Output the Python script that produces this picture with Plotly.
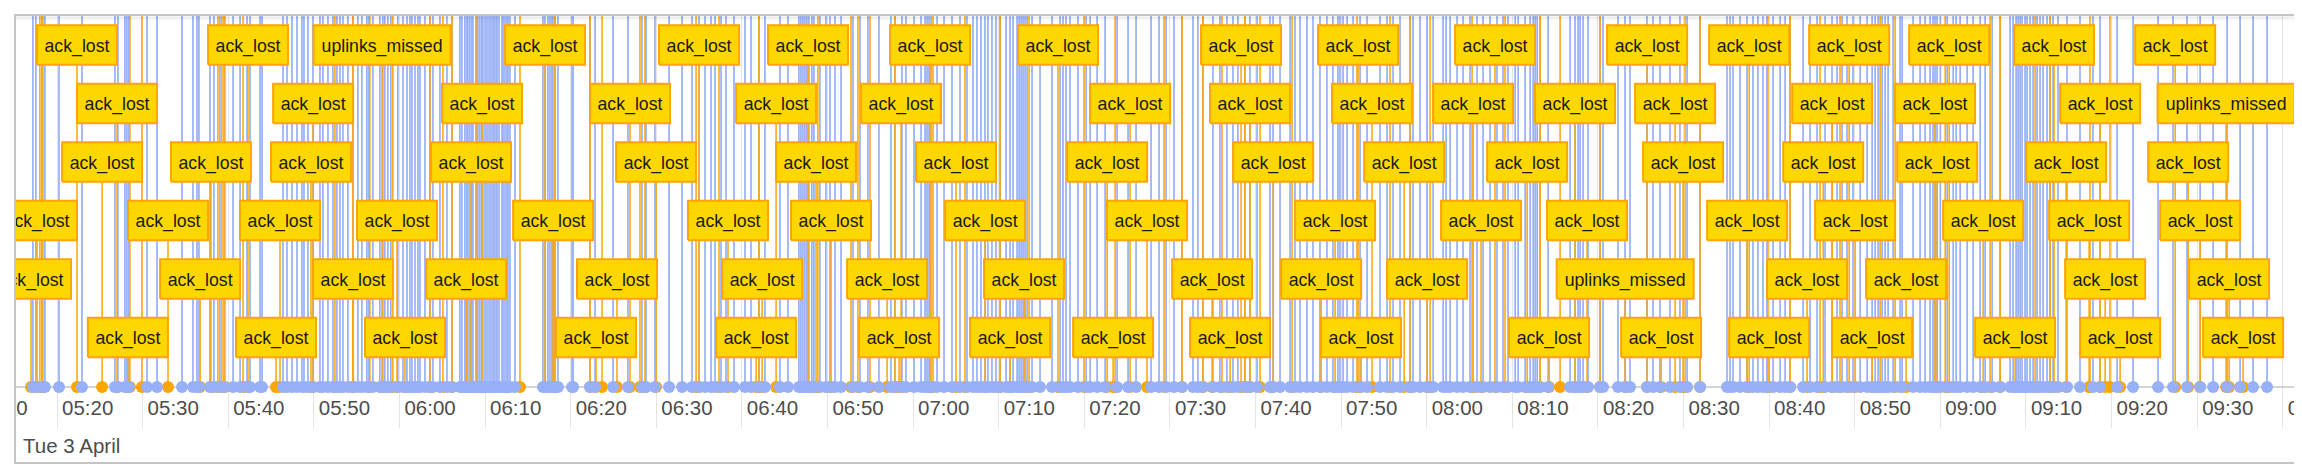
import plotly.graph_objects as go
import pandas as pd

DAY = "2018-04-03"

# ---------------- data (event times) ----------------
# label events, one list per stacking lane (lane 0 = nearest the time axis)
lane0_times = ["05:28:17", "05:45:35", "06:00:39", "06:22:58", "06:41:40", "06:58:22", "07:11:20",
               "07:23:22", "07:37:02", "07:52:20", "08:14:18", "08:27:23", "08:40:00", "08:52:02",
               "09:08:44", "09:21:00", "09:35:22"]
lane1_times = ["05:16:58", "05:36:43", "05:54:35", "06:07:47", "06:25:25", "06:42:22", "06:56:58",
               "07:12:58", "07:34:56", "07:47:40", "08:00:03", "08:23:11", "08:44:26", "08:56:00",
               "09:19:15", "09:33:44"]
lane2_times = ["05:17:40", "05:32:58", "05:46:03", "05:59:43", "06:17:57", "06:38:23", "06:50:25",
               "07:08:25", "07:27:20", "07:49:18", "08:06:21", "08:18:44", "08:37:26", "08:50:03",
               "09:05:00", "09:17:23", "09:30:21"]
lane3_times = ["05:25:16", "05:37:59", "05:49:40", "06:08:22", "06:29:59", "06:48:40", "07:05:01",
               "07:22:40", "07:42:04", "07:57:22", "08:11:44", "08:29:57", "08:46:19", "08:59:38",
               "09:14:42", "09:28:57"]
lane4_times = ["05:27:01", "05:49:55", "06:09:39", "06:26:56", "06:44:00", "06:58:36", "07:25:21",
               "07:39:22", "07:53:37", "08:05:25", "08:17:20", "08:29:01", "08:47:22", "08:59:23",
               "09:18:40", "09:33:23"]
lane5_times = ["05:22:20", "05:42:19", "05:57:58", "06:17:01", "06:35:00", "06:47:44", "07:01:59",
               "07:16:56", "07:38:19", "07:51:59", "08:07:59", "08:25:45", "08:37:40", "08:49:21",
               "09:01:02", "09:13:17", "09:27:26"]
uplinks_missed_times = ["05:57:58", "08:23:11", "09:33:23"]   # all other labels are ack_lost

# other events whose boxes are stacked above the visible area (only line + dot visible)
blue_times = [
    "05:17:11", "05:17:32", "05:18:14", "05:18:35", "05:20:14", "05:22:55", "05:26:46", "05:27:07",
    "05:27:56", "05:28:10", "05:28:24", "05:30:31", "05:31:41", "05:34:36", "05:35:53", "05:36:21",
    "05:36:35", "05:37:52", "05:38:20", "05:39:02", "05:39:30", "05:40:34", "05:41:23", "05:42:12",
    "05:42:33", "05:43:43", "05:43:57", "05:46:24", "05:46:52", "05:47:27", "05:48:02", "05:48:37",
    "05:48:51", "05:49:19", "05:49:54", "05:50:43", "05:51:04", "05:51:39", "05:52:14", "05:52:42",
    "05:53:03", "05:53:24", "05:53:59", "05:54:34", "05:55:09", "05:55:37", "05:56:12", "05:56:26",
    "05:56:54", "05:57:43", "05:58:04", "05:58:18", "05:58:39", "05:59:00", "05:59:49", "06:00:25",
    "06:00:53", "06:01:14", "06:01:28", "06:01:49", "06:02:10", "06:02:24", "06:02:59", "06:03:34",
    "06:03:55", "06:04:44", "06:05:33", "06:06:08", "06:07:04", "06:07:18", "06:07:39", "06:07:53",
    "06:08:00", "06:08:14", "06:08:28", "06:08:35", "06:09:03", "06:09:10", "06:09:24", "06:09:38",
    "06:09:45", "06:10:00", "06:10:14", "06:10:28", "06:10:42", "06:10:56", "06:11:03", "06:11:17",
    "06:11:24", "06:11:38", "06:11:59", "06:12:06", "06:12:20", "06:12:34", "06:12:41", "06:12:55",
    "06:13:30", "06:16:46", "06:17:00", "06:17:21", "06:17:35", "06:17:49", "06:17:56", "06:18:10",
    "06:18:31", "06:20:10", "06:20:17", "06:22:16", "06:22:51", "06:24:57", "06:26:42", "06:28:20",
    "06:28:48", "06:29:51", "06:31:30", "06:33:01", "06:34:11", "06:35:00", "06:35:42", "06:36:24",
    "06:36:52", "06:37:34", "06:38:09", "06:39:05", "06:40:22", "06:41:04", "06:42:00", "06:42:42",
    "06:44:27", "06:45:23", "06:46:40", "06:46:54", "06:47:08", "06:47:22", "06:47:36", "06:47:50",
    "06:48:11", "06:48:25", "06:49:07", "06:49:49", "06:50:18", "06:50:53", "06:51:35", "06:52:59",
    "06:53:48", "06:54:44", "06:56:01", "06:57:25", "06:57:53", "06:58:42", "06:59:10", "07:00:07",
    "07:00:56", "07:01:24", "07:01:38", "07:01:52", "07:02:06", "07:02:48", "07:03:37", "07:04:33",
    "07:05:29", "07:06:18", "07:07:00", "07:07:28", "07:07:56", "07:08:24", "07:08:45", "07:09:13",
    "07:09:41", "07:10:10", "07:10:52", "07:11:20", "07:11:41", "07:12:09", "07:12:23", "07:12:37",
    "07:12:51", "07:13:05", "07:13:19", "07:13:54", "07:14:50", "07:16:14", "07:17:10", "07:17:31",
    "07:17:52", "07:18:20", "07:19:16", "07:20:13", "07:20:41", "07:21:30", "07:22:26", "07:23:50",
    "07:25:07", "07:26:03", "07:27:48", "07:28:44", "07:29:33", "07:30:29", "07:31:25", "07:32:42",
    "07:33:17", "07:33:52", "07:35:02", "07:35:51", "07:36:40", "07:37:22", "07:37:57", "07:38:46",
    "07:39:21", "07:40:11", "07:41:42", "07:42:03", "07:42:52", "07:44:02", "07:44:37", "07:45:12",
    "07:46:01", "07:46:43", "07:47:32", "07:48:21", "07:49:03", "07:49:38", "07:49:52", "07:50:14",
    "07:50:42", "07:51:24", "07:52:13", "07:53:02", "07:54:33", "07:55:22", "07:56:04", "07:56:53",
    "07:58:03", "07:58:24", "07:59:13", "08:00:03", "08:00:45", "08:01:55", "08:02:16", "08:02:44",
    "08:03:33", "08:04:15", "08:05:04", "08:05:53", "08:06:35", "08:07:24", "08:08:13", "08:08:55",
    "08:09:30", "08:10:20", "08:10:41", "08:11:30", "08:12:05", "08:12:26", "08:12:40", "08:12:54",
    "08:13:15", "08:14:11", "08:16:45", "08:17:20", "08:17:41", "08:17:55", "08:18:16", "08:18:51",
    "08:20:15", "08:20:36", "08:22:21", "08:23:10", "08:23:45", "08:25:44", "08:26:26", "08:27:15",
    "08:28:25", "08:29:35", "08:30:25", "08:31:56", "08:35:05", "08:35:26", "08:35:47", "08:36:36",
    "08:37:25", "08:38:07", "08:38:42", "08:39:17", "08:39:45", "08:40:28", "08:41:17", "08:41:52",
    "08:42:27", "08:43:58", "08:44:47", "08:45:36", "08:46:32", "08:47:21", "08:47:56", "08:48:31",
    "08:49:06", "08:49:48", "08:50:38", "08:51:27", "08:52:02", "08:52:23", "08:52:44", "08:53:12",
    "08:53:33", "08:53:54", "08:54:29", "08:55:18", "08:55:32", "08:56:49", "08:57:38", "08:58:13",
    "08:58:48", "08:59:09", "08:59:23", "08:59:37", "09:00:00", "09:00:48", "09:01:30", "09:01:51",
    "09:02:19", "09:03:08", "09:03:50", "09:04:39", "09:05:14", "09:06:03", "09:06:59", "09:08:09",
    "09:08:30", "09:08:51", "09:09:05", "09:09:19", "09:09:33", "09:09:54", "09:10:08", "09:10:29",
    "09:10:50", "09:11:18", "09:11:39", "09:12:00", "09:12:28", "09:12:49", "09:13:10", "09:13:45",
    "09:14:48", "09:16:19", "09:17:50", "09:18:39", "09:20:39", "09:22:31", "09:25:26", "09:27:11",
    "09:28:49", "09:30:21", "09:31:52", "09:33:30", "09:35:01", "09:36:32", "09:38:10",
]
orange_hidden_times = [
    "05:18:00", "05:18:21", "05:28:31", "05:29:55", "05:38:48", "05:39:16", "05:39:37", "05:41:44",
    "05:52:28", "05:54:34", "05:56:33", "05:59:14", "06:03:34", "06:05:05", "06:06:08", "06:08:56",
    "06:14:05", "06:18:10", "06:22:16", "06:23:40", "06:28:06", "06:28:41", "06:34:39", "06:37:20",
    "06:42:00", "06:48:53", "06:52:45", "06:53:34", "06:54:58", "06:57:53", "07:02:20", "07:06:04",
    "07:10:10", "07:13:33", "07:19:58", "07:23:36", "07:29:19", "07:31:25", "07:33:52", "07:36:05",
    "07:38:46", "07:40:32", "07:44:16", "07:51:52", "07:55:43", "07:58:03", "08:00:24", "08:05:18",
    "08:09:09", "08:13:15", "08:15:35", "08:20:15", "08:30:11", "08:31:56", "08:39:52", "08:42:27",
    "08:45:57", "08:48:17", "08:52:58", "08:54:43", "09:00:34", "09:05:49", "09:06:59", "09:11:04",
    "09:12:49", "09:17:29", "09:19:49",
]

# time-axis ticks
tick_labels = ["05:10", "05:20", "05:30", "05:40", "05:50", "06:00", "06:10", "06:20", "06:30",
               "06:40", "06:50", "07:00", "07:10", "07:20", "07:30", "07:40", "07:50", "08:00",
               "08:10", "08:20", "08:30", "08:40", "08:50", "09:00", "09:10", "09:20", "09:30",
               "09:40"]
major_label = "Tue 3 April"

# ---------------- layout geometry / style ----------------
# page pixels: the page body adds an 8 px offset, so the figure is 8 px smaller
BODY = 8
FIG_W, FIG_H = 2302 - BODY, 475 - 2 * BODY
PLOT_L, PLOT_T, PLOT_B = 16, 16, 428        # plot area in page pixels
M_L, M_R, M_T = PLOT_L - BODY, 0, PLOT_T - BODY
M_B = FIG_H - (PLOT_B - BODY)
PLOT_W = FIG_W - M_L - M_R
PLOT_H = PLOT_B - PLOT_T
X_START = pd.Timestamp(f"{DAY} 05:15:12.6")
X_END = X_START + pd.Timedelta(seconds=7.0089 * PLOT_W)
SEC_PER_PX = (X_END - X_START).total_seconds() / PLOT_W

PX_PER_LANE = 58.5
LANE0_PX = 337.5                      # page pixel row of lane-0 centre


def px_to_lane(py):
    return (LANE0_PX - py) / PX_PER_LANE


Y_TOP = px_to_lane(PLOT_T)
Y_BOT = px_to_lane(PLOT_B)
AXIS_Y = px_to_lane(387)
BOX_HALF_H = (41.7 - 2) / 2 / PX_PER_LANE
BOX_W = {"ack_lost": 82, "uplinks_missed": 139}

BLUE = "#97B0F8"
ORANGE = "#FFA500"
GOLD = "#FFD700"
FONT = "Liberation Sans, Arial, Helvetica, sans-serif"


def ts(t):
    return pd.Timestamp(f"{DAY} {t}")


def iso(t):
    return t.strftime("%Y-%m-%d %H:%M:%S.%f")


def dpx(px):
    return pd.Timedelta(seconds=px * SEC_PER_PX)


lanes = [lane0_times, lane1_times, lane2_times, lane3_times, lane4_times, lane5_times]
labels = []
for lane, times in enumerate(lanes):
    for t in times:
        labels.append((ts(t), lane, "uplinks_missed" if t in uplinks_missed_times else "ack_lost"))


def vlines(times, y0, y1s):
    xs, ys = [], []
    for t, y1 in zip(times, y1s):
        xs += [iso(t), iso(t), None]
        ys += [y0, y1, None]
    return xs, ys


fig = go.Figure()

# axis baseline
fig.add_trace(go.Scatter(x=[iso(X_START), iso(X_END)], y=[AXIS_Y, AXIS_Y], mode="lines",
                         line=dict(color="#c4c4c4", width=1.6), hoverinfo="skip"))

# hidden items' lines (blue, then orange)
bt = [ts(t) for t in blue_times]
xs, ys = vlines(bt, AXIS_Y, [Y_TOP] * len(bt))
fig.add_trace(go.Scatter(x=xs, y=ys, mode="lines", line=dict(color=BLUE, width=1.7),
                         hoverinfo="skip"))
ot = [ts(t) for t in orange_hidden_times]
xs, ys = vlines(ot, AXIS_Y, [Y_TOP] * len(ot))
fig.add_trace(go.Scatter(x=xs, y=ys, mode="lines", line=dict(color=ORANGE, width=1.5),
                         hoverinfo="skip"))

# label lines from box to axis
xs, ys = vlines([l[0] for l in labels], AXIS_Y, [l[1] - BOX_HALF_H for l in labels])
fig.add_trace(go.Scatter(x=xs, y=ys, mode="lines", line=dict(color=ORANGE, width=1.5),
                         hoverinfo="skip"))

# boxes
bx, by = [], []
for t, lane, txt in labels:
    hw = dpx((BOX_W[txt] - 2) / 2)
    l, r = iso(t - hw), iso(t + hw)
    bx += [l, r, r, l, l, None]
    by += [lane - BOX_HALF_H, lane - BOX_HALF_H, lane + BOX_HALF_H, lane + BOX_HALF_H,
           lane - BOX_HALF_H, None]
fig.add_trace(go.Scatter(x=bx, y=by, mode="lines", fill="toself", fillcolor=GOLD,
                         line=dict(color=ORANGE, width=2), hoverinfo="skip"))

# box texts
fig.add_trace(go.Scatter(x=[iso(l[0]) for l in labels],
                         y=[l[1] - 2.3 / PX_PER_LANE for l in labels],
                         text=[l[2] for l in labels], mode="text", textposition="middle center",
                         textfont=dict(family=FONT, size=17.7, color="#1a1a1a"), hoverinfo="skip"))

# dots on the axis
fig.add_trace(go.Scatter(x=[iso(t) for t in ot] + [iso(l[0]) for l in labels],
                         y=[AXIS_Y] * (len(ot) + len(labels)), mode="markers",
                         marker=dict(size=12, color=ORANGE, line=dict(width=0)), hoverinfo="skip"))
fig.add_trace(go.Scatter(x=[iso(t) for t in bt], y=[AXIS_Y] * len(bt), mode="markers",
                         marker=dict(size=12, color=BLUE, line=dict(width=0)), hoverinfo="skip"))

# minor tick labels (left aligned just right of their grid line)
fig.add_trace(go.Scatter(x=[iso(ts(t + ":00") + dpx(5)) for t in tick_labels],
                         y=[px_to_lane(410)] * len(tick_labels), text=tick_labels,
                         mode="text", textposition="middle right",
                         textfont=dict(family=FONT, size=20.5, color="#4d4d4d"), hoverinfo="skip"))


def paper_x(px):
    return (px - PLOT_L) / PLOT_W


def paper_y(py):
    return (PLOT_B - py) / PLOT_H


shapes = [
    # faint shadow under the top border
    dict(type="line", xref="paper", yref="paper", x0=paper_x(16), x1=1.02,
         y0=paper_y(17.5), y1=paper_y(17.5), line=dict(color="rgba(0,0,0,0.07)", width=2),
         layer="above"),
    dict(type="line", xref="paper", yref="paper", x0=paper_x(16), x1=1.02,
         y0=paper_y(19.5), y1=paper_y(19.5), line=dict(color="rgba(0,0,0,0.035)", width=2),
         layer="above"),
    # outer frame
    dict(type="rect", xref="paper", yref="paper", x0=paper_x(15), x1=1.02,
         y0=paper_y(463), y1=paper_y(15), line=dict(color="#c4c4c4", width=2),
         fillcolor="rgba(0,0,0,0)", layer="above"),
]

annotations = [
    dict(text=major_label, xref="paper", yref="paper", x=paper_x(21), y=paper_y(445),
         xanchor="left", yanchor="middle", showarrow=False,
         font=dict(family=FONT, size=20.5, color="#4d4d4d")),
]

fig.update_layout(
    width=FIG_W, height=FIG_H, autosize=False,
    margin=dict(l=M_L, r=M_R, t=M_T, b=M_B, pad=0),
    paper_bgcolor="white", plot_bgcolor="white",
    showlegend=False,
    shapes=shapes,
    annotations=annotations,
    xaxis=dict(type="date", range=[iso(X_START), iso(X_END)], showgrid=True,
               gridcolor="#e5e5e5", gridwidth=1.3, tick0=f"{DAY} 05:00:00", dtick=600000,
               showticklabels=False, ticks="", showline=False, zeroline=False, fixedrange=True),
    yaxis=dict(range=[Y_BOT, Y_TOP], visible=False, showgrid=False, zeroline=False,
               fixedrange=True),
)

fig.write_html("out.html", config={"displayModeBar": False})
